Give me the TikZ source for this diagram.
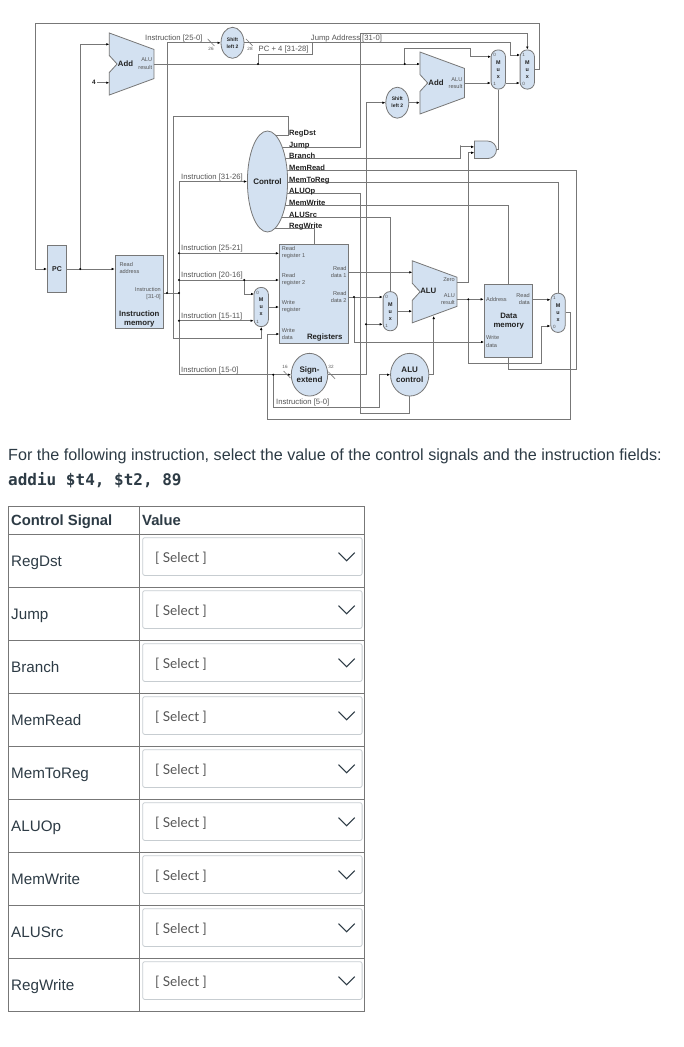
\documentclass[tikz,border=0pt]{standalone}
\usepackage{fontspec}
\setmainfont{Liberation Sans}
\newfontfamily\latofont{Lato}
\newfontfamily\codefont{DejaVu Sans Mono}
\usetikzlibrary{arrows.meta,backgrounds,shapes.geometric,shapes.gates.logic.US}
\definecolor{unitblue}{HTML}{D3E1F1}
\definecolor{wiregray}{HTML}{777777}
\definecolor{labelgray}{HTML}{555555}
\definecolor{namedark}{HTML}{222222}
\definecolor{prose}{HTML}{2D3B45}
\definecolor{boxgray}{HTML}{C7CDD1}
\tikzset{
  unit/.style={draw=wiregray, line width=0.8pt, fill=unitblue, inner sep=0pt, align=center},
  blockunit/.style={unit, rectangle},
  ovalunit/.style={unit, ellipse, text=namedark, font=\fontsize{8}{9.4}\selectfont\bfseries},
  muxbox/.style={unit, rounded corners=7pt, minimum width=14.4pt, minimum height=39.2pt, text=namedark, font=\fontsize{5.4}{7}\selectfont\bfseries},
  aluframe/.style={inner sep=0pt, minimum width=44.6pt, minimum height=62pt},
  wire/.style={draw=wiregray, line width=0.8pt},
  arrow/.style={wire, -{Latex[length=3pt,width=2.6pt,black]}},
  tickmark/.style={draw=wiregray, line width=0.6pt},
  bigtext/.style={inner sep=0pt, text=labelgray, font=\fontsize{7.7}{9}\selectfont},
  smalltext/.style={inner sep=0pt, text=labelgray, align=left, font=\fontsize{5.6}{7.2}\selectfont},
  tinytext/.style={inner sep=0pt, text=labelgray, font=\fontsize{4.6}{5}\selectfont},
  boldtext/.style={inner sep=0pt, text=namedark, align=center, font=\fontsize{7.8}{9.4}\selectfont\bfseries},
  signame/.style={inner sep=0pt, anchor=base west, text=namedark, font=\fontsize{7.6}{8}\selectfont\bfseries},
  cell/.style={draw=wiregray, line width=0.8pt, inner sep=0pt, anchor=north west, minimum height=53pt},
  namecell/.style={cell, minimum width=131pt},
  valuecell/.style={cell, minimum width=225pt},
  celltext/.style={inner sep=0pt, anchor=base west, text=prose, font=\fontsize{15.2}{18}\selectfont},
  headtext/.style={celltext, font=\fontsize{14.8}{18}\selectfont\bfseries},
  selectbox/.style={draw=boxgray, line width=0.8pt, rounded corners=2pt, inner sep=0pt, anchor=north west, minimum width=219.4pt, minimum height=37.7pt},
  selecttext/.style={inner sep=0pt, anchor=base west, text=labelgray, font=\latofont\fontsize{13.6}{16}\selectfont},
  chevron/.style={draw=prose, line width=1.1pt}
}
\newcommand{\aluunit}[2]{
  \node[aluframe] (#1) at (#2) {};
  \draw[unit, shift={(#1.center)}] (-22.3,-31) -- (22.3,-14.6) -- (22.3,14.6) -- (-22.3,31) -- (-22.3,8.5) -- (-14.5,0) -- (-22.3,-8.5) -- cycle;
}
\newcommand{\muxunit}[4]{
  \node[muxbox] (#1) at (#2) {M\\u\\x};
  \node[tinytext] (#1top) at ([xshift=-3.6pt,yshift=-5.5pt]#1.north) {#3};
  \node[tinytext] (#1bottom) at ([xshift=-3.6pt,yshift=5.5pt]#1.south) {#4};
}
\begin{document}
\begin{tikzpicture}[x=1pt,y=-1pt]
  \useasboundingbox (0,0) rectangle (683,1047);

  % units
  \node[blockunit, minimum width=19.4pt, minimum height=47.6pt, text=namedark, font=\fontsize{7}{8}\selectfont\bfseries] (pc) at (57,269) {PC};
  \node[blockunit, minimum width=48.3pt, minimum height=72.6pt] (imem) at (139.2,292) {};
  \node[blockunit, minimum width=69.4pt, minimum height=99.3pt] (regs) at (314,293.7) {};
  \node[blockunit, minimum width=48.3pt, minimum height=73.4pt] (dmem) at (508.2,321) {};
  \node[ovalunit, minimum width=38.4pt, minimum height=101pt] (control) at (267.5,181.5) {Control};
  \node[ovalunit, minimum width=29pt, minimum height=42.7pt] (signext) at (309.5,374.7) {Sign-\\extend};
  \node[ovalunit, minimum width=28.7pt, minimum height=42.7pt] (aluctrl) at (409.7,374.7) {ALU\\control};
  \node[ovalunit, minimum width=23pt, minimum height=31pt, font=\fontsize{5}{7}\selectfont\bfseries] (shiftj) at (232.5,42.8) {Shift\\left 2};
  \node[ovalunit, minimum width=23pt, minimum height=31pt, font=\fontsize{5}{7}\selectfont\bfseries] (shiftb) at (397.3,102.7) {Shift\\left 2};
  \aluunit{addpc}{131.6,64}
  \aluunit{addbr}{442.2,83}
  \aluunit{alu}{434.6,291.8}
  \muxunit{branchmux}{498.3,69.5}{0}{1}
  \muxunit{jumpmux}{527.3,69.5}{1}{0}
  \muxunit{regmux}{261.2,307}{0}{1}
  \muxunit{alumux}{390.3,311.2}{0}{1}
  \muxunit{memmux}{558,312.8}{1}{0}
  \node[and gate US, logic gate inputs=nn, draw=wiregray, line width=0.8pt, fill=unitblue, inner sep=0pt, minimum width=17pt, minimum height=17.5pt] (andgate) at (484.8,149.8) {};

  % texts on the units
  \node[boldtext] (addpcname) at (125.5,63.5) {Add};
  \node[smalltext, align=right] (addpcres) at (145.3,63.5) {ALU\\result};
  \node[boldtext] (addbrname) at (436,82.7) {Add};
  \node[smalltext, align=right] (addbrres) at (455.5,83) {ALU\\result};
  \node[boldtext] (aluname) at (428.3,291) {ALU};
  \node[smalltext, anchor=east] (zeroname) at (455,280) {Zero};
  \node[smalltext, anchor=east, align=right] (alures) at (455,299) {ALU\\result};
  \node[boldtext, font=\fontsize{6.4}{8}\selectfont\bfseries] (fourname) at (94,82.7) {4};
  \node[smalltext, anchor=west] (readaddr) at (119.3,268) {Read\\address};
  \node[smalltext, anchor=east, align=right] (instrout) at (161,293.5) {Instruction\\{}[31-0]};
  \node[boldtext] (imemname) at (139.3,319) {Instruction\\memory};
  \node[smalltext, anchor=west] (readreg1) at (281.7,252.8) {Read\\register 1};
  \node[smalltext, anchor=west] (readreg2) at (281.7,279.8) {Read\\register 2};
  \node[smalltext, anchor=west] (writereg) at (281.7,306.8) {Write\\register};
  \node[smalltext, anchor=west] (writedat) at (281.7,333.7) {Write\\data};
  \node[smalltext, anchor=east, align=right] (readdat1) at (346.7,272.2) {Read\\data 1};
  \node[smalltext, anchor=east, align=right] (readdat2) at (346.7,297.2) {Read\\data 2};
  \node[boldtext] (regsname) at (324.8,337.3) {Registers};
  \node[smalltext, anchor=west] (memaddr) at (486,299.3) {Address};
  \node[smalltext, anchor=east, align=right] (memread) at (530,299.2) {Read\\data};
  \node[boldtext] (dmemname) at (508.7,321) {Data\\memory};
  \node[smalltext, anchor=west] (memwrite) at (486,341.5) {Write\\data};

  % signal names of the control unit
  \node[signame] (regdstname) at (289,135.3) {RegDst};
  \node[signame] (jumpname) at (289,147) {Jump};
  \node[signame] (branchname) at (289,158.5) {Branch};
  \node[signame] (memreadname) at (289,170) {MemRead};
  \node[signame] (memtoregname) at (289,182) {MemToReg};
  \node[signame] (aluopname) at (289,193.5) {ALUOp};
  \node[signame] (memwritename) at (289,205.3) {MemWrite};
  \node[signame] (alusrcname) at (289,217) {ALUSrc};
  \node[signame] (regwritename) at (289,228.5) {RegWrite};

  % texts on the wires
  \node[bigtext, anchor=west] (t2510) at (145,38.5) {Instruction [25-0]};
  \node[bigtext, anchor=west] (t3126) at (181,177.7) {Instruction [31-26]};
  \node[bigtext, anchor=west] (t2521) at (181,249) {Instruction [25-21]};
  \node[bigtext, anchor=west] (t2016) at (181,275.7) {Instruction [20-16]};
  \node[bigtext, anchor=west] (t1511) at (181,316.3) {Instruction [15-11]};
  \node[bigtext, anchor=west] (t1510) at (181,370.3) {Instruction [15-0]};
  \node[bigtext, anchor=west] (t50) at (276,403) {Instruction [5-0]};
  \node[bigtext, anchor=west] (tjump) at (310.7,38.7) {Jump Address [31-0]};
  \node[bigtext, anchor=west] (tpc4) at (258.5,49.3) {PC + 4 [31-28]};
  \node[tinytext] (w26) at (211,48.5) {26};
  \node[tinytext] (w28) at (250,48.5) {28};
  \node[tinytext] (w16) at (285,367.3) {16};
  \node[tinytext] (w32) at (331,367.3) {32};

  % joins and free ends
  \coordinate (pcjoin) at (80.3,269);
  \coordinate (addpcin) at (109.3,44.3);
  \coordinate (fourin) at (109.3,82.7);
  \coordinate (instrsplit) at (167,293);
  \coordinate (instrbus) at (179,293);
  \coordinate (busrs) at (179,253.3);
  \coordinate (busrt) at (179,280);
  \coordinate (busrd) at (179,320.7);
  \coordinate (rtjoin) at (244.3,280);
  \coordinate (regmuxin) at (254,294);
  \coordinate (functjoin) at (273.3,374.7);
  \coordinate (jumpjoin) at (312.3,42.8);
  \coordinate (pc4join) at (258,64);
  \coordinate (brjoin) at (404.7,64);
  \coordinate (addbrin) at (420,64);
  \coordinate (branchin) at (491,56.7);
  \coordinate (jumpin) at (520.1,55);
  \coordinate (signjoin) at (366,324.3);
  \coordinate (readjoin) at (354,297);
  \coordinate (aluin) at (412.3,272.3);
  \coordinate (aluctrlin) at (433.7,316);
  \coordinate (zeroout) at (456.9,282);
  \coordinate (aluout) at (456.9,299.3);
  \coordinate (resjoin) at (468.3,299.3);
  \coordinate (memin) at (484,342);
  \coordinate (memout) at (532.3,299.7);
  \coordinate (writein) at (279.3,334);

  \begin{scope}[on background layer]
    \fill[white] (0,0) rectangle (683,1047);
    % program counter
    \draw[arrow] (pc.east) -- (imem.west |- pc.east);
    \draw[arrow] (pcjoin) |- (addpcin);
    \draw[arrow] (fourname.east) ++(1.5,0) -- (fourin);
    \draw[arrow] (jumpmux.east) -| (539.3,23.3) -- (35.7,23.3) |- (pc.west);
    \draw[wire] (addpc.east) -- (pc4join);
    \draw[arrow] (pc4join) -- (addbrin);
    \draw[wire] (pc4join) |- (312.3,54.3) -- (jumpjoin);
    \draw[arrow] (shiftj.east) -- (510.7,42.8) |- (jumpin);
    \draw[arrow] (brjoin) |- (470.3,48.7) |- (branchin);
    \draw[arrow] (addbr.east) -- (branchmux.west |- addbr.east);
    \draw[arrow] (branchmux.east |- addbr.east) -- (jumpmux.west |- addbr.east);
    \draw[arrow] (shiftb.east) -- (addbr.west |- shiftb.east);
    % instruction fields
    \draw[wire] (imem.east |- instrbus) -- (instrbus);
    \draw[arrow] (instrsplit) |- (shiftj.west);
    \draw[arrow] (instrbus) |- (control.west);
    \draw[arrow] (instrbus) |- (signext.west);
    \draw[arrow] (busrs) -- (regs.west |- busrs);
    \draw[arrow] (busrt) -- (regs.west |- busrt);
    \draw[arrow] (busrd) -- (regmux.west |- busrd);
    \draw[arrow] (rtjoin) |- (regmuxin);
    \draw[arrow] (regmux.east) -- (regs.west |- regmux.east);
    \draw[arrow] (functjoin) |- (379.3,407.3) |- (aluctrl.west);
    % control lines
    \draw[arrow] (control.center |- regdstname.base) -- (288.7,135.3) -- (288.7,116) -| (173,338) -| (regmux.south);
    \draw[arrow] (control.center |- jumpname.base) -| (360,33.3) -| (jumpmux.north);
    \draw[arrow] (control.center |- branchname.base) -| (460.7,145.3) |- (andgate.input 1);
    \draw[wire] (control.center |- memreadname.base) -| (576.7,369) -| (dmem.south);
    \draw[wire] (control.center |- memtoregname.base) -| (memmux.north);
    \draw[wire] (control.center |- aluopname.base) -| (360,413.3) -| (aluctrl.south);
    \draw[wire] (control.center |- memwritename.base) -| (dmem.north);
    \draw[wire] (control.center |- alusrcname.base) -| (alumux.north);
    \draw[wire] (control.center |- regwritename.base) -| (regs.north);
    % data path
    \draw[wire] (signext.east) -| (signjoin);
    \draw[arrow] (signjoin) |- (shiftb.west);
    \draw[arrow] (signjoin) -- (alumux.west |- signjoin);
    \draw[arrow] (regs.east |- aluin) -- (aluin);
    \draw[arrow] (regs.east |- readjoin) -- (alumux.west |- readjoin);
    \draw[arrow] (readjoin) |- (memin);
    \draw[arrow] (alumux.east) -- (alu.west |- alumux.east);
    \draw[arrow] (aluctrl.east) -| (aluctrlin);
    \draw[arrow] (zeroout) -- (468.3,282) |- (andgate.input 2);
    \draw[wire] (andgate.output) -| (branchmux.south);
    \draw[arrow] (aluout) -- (dmem.west |- aluout);
    \draw[arrow] (resjoin) |- (541.7,363) |- (memmux.west |- 0,326);
    \draw[arrow] (memout) -- (memmux.west |- memout);
    \draw[arrow] (memmux.east) -| (570.7,419) -| (267.7,334) -- (writein);
  \end{scope}

  \foreach \joinname in {pcjoin,instrsplit,instrbus,busrs,busrt,busrd,rtjoin,functjoin,pc4join,brjoin,signjoin,readjoin,resjoin}
    \fill[black] (\joinname) circle (1.1pt);
  \foreach \bx/\by in {211/42.4,249.3/42.4,287/374.5,331.7/375.3}
    \draw[tickmark] (\bx,\by) ++(-3.4,-3.5) -- ++(6.8,7);

  % question below the circuit
  \node[inner sep=0pt, anchor=west, text=prose, font=\fontsize{16.15}{18}\selectfont] (question) at (8,456) {For the following instruction, select the value of the control signals and the instruction fields:};
  \node[inner sep=0pt, anchor=west, text=prose, font=\codefont\fontsize{16}{18}\selectfont\bfseries] (codeline) at (8,480) {addiu \$t4, \$t2, 89};

  \node[namecell, minimum height=28.6pt] (headname) at (8.3,505.7) {};
  \node[valuecell, minimum height=28.6pt] (headvalue) at (139.3,505.7) {};
  \node[headtext] (headnametext) at (11,525) {Control Signal};
  \node[headtext] (headvaluetext) at (142,525) {Value};
  \foreach \signal [count=\i] in {RegDst,Jump,Branch,MemRead,MemToReg,ALUOp,MemWrite,ALUSrc,RegWrite} {
    \node[namecell] (name\i) at (8.3,{534.3+53*(\i-1)}) {};
    \node[celltext] (nametext\i) at (11,{566+53*(\i-1)}) {\signal};
    \node[valuecell] (value\i) at (139.3,{534.3+53*(\i-1)}) {};
    \node[selectbox] (select\i) at (142.3,{537.3+53*(\i-1)}) {};
    \node[selecttext] (selecttext\i) at (155,{562.3+53*(\i-1)}) {[ Select ]};
    \draw[chevron] (select\i.east) ++(-24,-3.9) -- ++(8.1,8.1) -- ++(8.1,-8.1);
  }
\end{tikzpicture}
\end{document}
